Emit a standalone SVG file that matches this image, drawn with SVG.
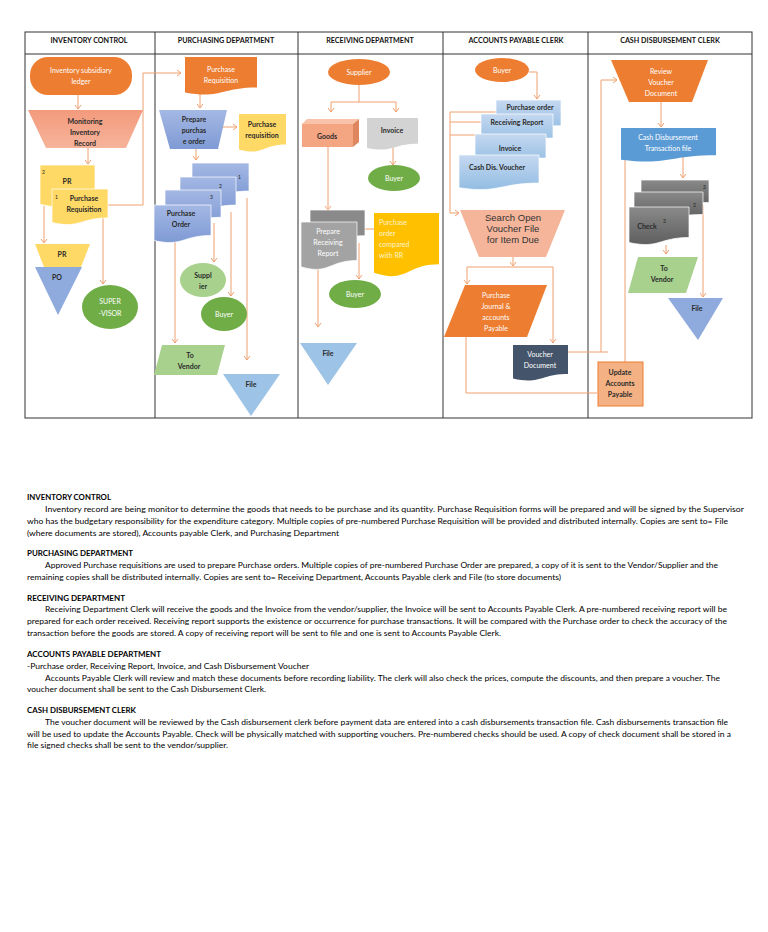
<svg xmlns="http://www.w3.org/2000/svg" width="768" height="932" viewBox="0 0 768 932">
<style>
.conn{stroke:#f0a070;stroke-width:1;fill:none}
.t{font-family:Lato,"Liberation Sans",sans-serif;font-size:7px;text-anchor:middle}
.ts{font-family:Lato,"Liberation Sans",sans-serif;font-size:7px;text-anchor:start}
.b{font-weight:bold}
.w{fill:#ffffff}
.d{fill:#2a2a2a}
.n{font-family:Lato,"Liberation Sans",sans-serif;font-size:5px;fill:#222}
.hd{font-family:Lato,"Liberation Sans",sans-serif;font-size:7.2px;font-weight:bold;text-anchor:middle;fill:#111}
.p{font-family:Lato,"Liberation Sans",sans-serif;font-size:7.4px;fill:#000}
.ph{font-family:Lato,"Liberation Sans",sans-serif;font-size:7.4px;fill:#000;font-weight:bold}
.sk{stroke:#ffffff;stroke-width:0.7}
.so{font-family:"Liberation Sans",Arial,sans-serif;font-size:9.5px;fill:#333;text-anchor:middle}
</style>
<defs>
<marker id="ah" markerUnits="userSpaceOnUse" markerWidth="8" markerHeight="8" refX="5" refY="4" orient="auto">
<path d="M1,1 L5,4 L1,7" fill="none" stroke="#f0a070" stroke-width="1"/>
</marker>
<linearGradient id="gBlue" x1="0" y1="0" x2="0" y2="1"><stop offset="0" stop-color="#c5d8f0"/><stop offset="1" stop-color="#93bde3"/></linearGradient>
<linearGradient id="gPur" x1="0" y1="0" x2="0" y2="1"><stop offset="0" stop-color="#a4b8e4"/><stop offset="1" stop-color="#7f9ad4"/></linearGradient>
<linearGradient id="gGray" x1="0" y1="0" x2="0" y2="1"><stop offset="0" stop-color="#8a8a8a"/><stop offset="1" stop-color="#5e5e5e"/></linearGradient>
<linearGradient id="gSal" x1="0" y1="0" x2="0" y2="1"><stop offset="0" stop-color="#f39a7c"/><stop offset="1" stop-color="#f6b49b"/></linearGradient>
</defs>
<rect width="768" height="932" fill="#ffffff"/>

<g id="table" stroke="#333" stroke-width="1" fill="none">
<rect x="25" y="32" width="727" height="386"/>
<line x1="25" y1="54" x2="752" y2="54"/>
<line x1="155" y1="32" x2="155" y2="418"/>
<line x1="298" y1="32" x2="298" y2="418"/>
<line x1="443" y1="32" x2="443" y2="418"/>
<line x1="588" y1="32" x2="588" y2="418"/>
</g>
<g id="headers">
<text class="hd" x="89" y="43">INVENTORY CONTROL</text>
<text class="hd" x="226" y="43">PURCHASING DEPARTMENT</text>
<text class="hd" x="370" y="43">RECEIVING DEPARTMENT</text>
<text class="hd" x="516" y="43">ACCOUNTS PAYABLE CLERK</text>
<text class="hd" x="670" y="43">CASH DISBURSEMENT CLERK</text>
</g>

<g id="connectors">
<path class="conn" d="M78,95 V109" marker-end="url(#ah)"/>
<path class="conn" d="M88,148 V164" marker-end="url(#ah)"/>
<path class="conn" d="M44,206 V243" marker-end="url(#ah)"/>
<path class="conn" d="M103,217 V284" marker-end="url(#ah)"/>
<path class="conn" d="M108,205 H143 V73 H181" marker-end="url(#ah)"/>
<path class="conn" d="M200,92 V108" marker-end="url(#ah)"/>
<path class="conn" d="M220,127 H237" marker-end="url(#ah)"/>
<path class="conn" d="M196,149 V160" marker-end="url(#ah)"/>
<path class="conn" d="M175,241 V343" marker-end="url(#ah)"/>
<path class="conn" d="M214,223 V262" marker-end="url(#ah)"/>
<path class="conn" d="M231,212 V296" marker-end="url(#ah)"/>
<path class="conn" d="M247,198 V360" marker-end="url(#ah)"/>
<path class="conn" d="M359,85 V102 M331,102 H396"/>
<path class="conn" d="M331,102 V112" marker-end="url(#ah)"/>
<path class="conn" d="M396,102 V112" marker-end="url(#ah)"/>
<path class="conn" d="M393,146 V165" marker-end="url(#ah)"/>
<path class="conn" d="M328,147 V210" marker-end="url(#ah)"/>
<path class="conn" d="M365,229 H374"/>
<path class="conn" d="M359,243 V279" marker-end="url(#ah)"/>
<path class="conn" d="M318,267 V327" marker-end="url(#ah)"/>
<path class="conn" d="M529,72 H537 V99" marker-end="url(#ah)"/>
<path class="conn" d="M496,112 H450 M481,122 H450 M475,135 H450"/>
<path class="conn" d="M450,112 V213 H459" marker-end="url(#ah)"/>
<path class="conn" d="M513,245 V266" marker-end="url(#ah)"/>
<path class="conn" d="M467,267 H553"/>
<path class="conn" d="M467,267 V284" marker-end="url(#ah)"/>
<path class="conn" d="M553,267 V343" marker-end="url(#ah)"/>
<path class="conn" d="M466,337 V393 H597"/>
<path class="conn" d="M568,352 H608"/>
<path class="conn" d="M601,352 V80 H617" marker-end="url(#ah)"/>
<path class="conn" d="M661,102 V127" marker-end="url(#ah)"/>
<path class="conn" d="M683,152 V178" marker-end="url(#ah)"/>
<path class="conn" d="M666,245 V254" marker-end="url(#ah)"/>
<path class="conn" d="M703,205 V297" marker-end="url(#ah)"/>
<path class="conn" d="M625,152 V362"/>
</g>

<g id="inv-ledger">
<rect x="30" y="57" width="102" height="38" rx="18" fill="#ed7d31"/>
<text class="t w" x="81" y="73">Inventory subsidiary</text>
<text class="t w" x="81" y="84">ledger</text>
</g>
<g id="inv-monitor">
<polygon points="28,110 143,110 126,148 46,148" fill="url(#gSal)"/>
<text class="t d b" x="85" y="124">Monitoring</text>
<text class="t d b" x="85" y="135">Inventory</text>
<text class="t d b" x="85" y="146">Record</text>
</g>
<g id="inv-pr2">
<path d="M40 165 H95 V198.7 C67.5 198.7 67.5 211.5 40 204.2 Z" fill="#ffd966" class="sk"/>
<text class="n" x="42" y="174">2</text>
<text class="t d b" x="67" y="184">PR</text>
</g>
<g id="inv-pr1">
<path d="M52 189 H108 V217.9 C80 217.9 80 228.9 52 222.6 Z" fill="#ffd966" class="sk"/>
<text class="n" x="55" y="199">1</text>
<text class="t d b" x="84" y="201">Purchase</text>
<text class="t d b" x="84" y="212">Requisition</text>
</g>
<g id="inv-pr-file">
<polygon points="35,244 90,244 81,267 44,267" fill="#ffd966"/>
<text class="t d b" x="62" y="257">PR</text>
</g>
<g id="inv-po-file">
<polygon points="35,267 82,267 58,315" fill="#8faadc"/>
<text class="t d b" x="57" y="280">PO</text>
</g>
<g id="inv-supervisor">
<ellipse cx="110" cy="307" rx="28" ry="22" fill="#70ad47"/>
<text class="t w" x="110" y="304">SUPER</text>
<text class="t w" x="110" y="316">-VISOR</text>
</g>

<g id="pur-req">
<path d="M185 57 H257 V87.5 C221 87.5 221 99.1 185 92.5 Z" fill="#ed7d31"/>
<text class="t w" x="221" y="72">Purchase</text>
<text class="t w" x="221" y="83">Requisition</text>
</g>
<g id="pur-prepare">
<polygon points="159,110 227,110 218,149 170,149" fill="url(#gPur)"/>
<text class="t d b" x="194" y="122">Prepare</text>
<text class="t d b" x="194" y="133">purchas</text>
<text class="t d b" x="194" y="144">e order</text>
</g>
<g id="pur-req-copy">
<path d="M239 114 H286 V144.5 C262.5 144.5 262.5 156.1 239 149.5 Z" fill="#ffd966"/>
<text class="t d b" x="262" y="127">Purchase</text>
<text class="t d b" x="262" y="138">requisition</text>
</g>
<g id="pur-po-1">
<path d="M192 163 H249 V191.1 C220.5 191.1 220.5 201.8 192 195.7 Z" fill="url(#gPur)" class="sk"/>
<text class="n" x="238" y="179">1</text>
</g>
<g id="pur-po-2">
<path d="M180 177 H236 V205.1 C208 205.1 208 215.8 180 209.7 Z" fill="url(#gPur)" class="sk"/>
<text class="n" x="219" y="188">2</text>
</g>
<g id="pur-po-3">
<path d="M165 190 H221 V217.3 C193 217.3 193 227.7 165 221.8 Z" fill="url(#gPur)" class="sk"/>
<text class="n" x="210" y="199">3</text>
</g>
<g id="pur-po">
<path d="M154 205 H211 V235.5 C182.5 235.5 182.5 247.1 154 240.5 Z" fill="url(#gPur)" class="sk"/>
<text class="t d b" x="181" y="216">Purchase</text>
<text class="t d b" x="181" y="227">Order</text>
</g>
<g id="pur-supplier">
<ellipse cx="203" cy="280" rx="23" ry="17" fill="#a9d18e"/>
<text class="t d b" x="203" y="278">Suppl</text>
<text class="t d b" x="203" y="289">ier</text>
</g>
<g id="pur-buyer">
<ellipse cx="224" cy="314" rx="23" ry="17" fill="#70ad47"/>
<text class="t w" x="224" y="317">Buyer</text>
</g>
<g id="pur-vendor">
<polygon points="162,345 225,345 217,375 154,375" fill="#a9d18e"/>
<text class="t d b" x="190" y="358">To</text>
<text class="t d b" x="189" y="369">Vendor</text>
</g>
<g id="pur-file">
<polygon points="223,374 280,374 251,416" fill="#9dc3e6"/>
<text class="t d b" x="251" y="387">File</text>
</g>

<g id="rec-supplier">
<ellipse cx="359" cy="72" rx="31" ry="13" fill="#ed7d31"/>
<text class="t w" x="359" y="75">Supplier</text>
</g>
<g id="rec-goods">
<rect x="302" y="124" width="51" height="23" fill="#f4a582"/>
<polygon points="302,124 307,119 359,119 353,124" fill="#f8c3a8"/>
<polygon points="353,124 359,119 359,142 353,147" fill="#e0865f"/>
<text class="t d b" x="327" y="139">Goods</text>
</g>
<g id="rec-invoice">
<path d="M367 118 H418 V143.7 C392.5 143.7 392.5 153.4 367 147.9 Z" fill="#d3d3d3"/>
<text class="t d b" x="392" y="133">Invoice</text>
</g>
<g id="rec-buyer1">
<ellipse cx="394" cy="178" rx="26" ry="13" fill="#70ad47"/>
<text class="t w" x="394" y="181">Buyer</text>
</g>
<g id="rec-rr-back">
<path d="M310 210 H365 V235.7 C337.5 235.7 337.5 245.4 310 239.9 Z" fill="#8a8a8a" class="sk"/>
</g>
<g id="rec-rr">
<path d="M301 222 H357 V260.5 C329 260.5 329 275.2 301 266.8 Z" fill="#a3a3a3" class="sk"/>
<text class="t w" x="328" y="234">Prepare</text>
<text class="t w" x="328" y="245">Receiving</text>
<text class="t w" x="328" y="256">Report</text>
</g>
<g id="rec-compare">
<path d="M374 213 H439 V264.3 C406.5 264.3 406.5 283.9 374 272.8 Z" fill="#ffc000"/>
<text class="ts" fill="#fff4d0" x="379" y="225">Purchase</text>
<text class="ts" fill="#fff4d0" x="379" y="236">order</text>
<text class="ts" fill="#fff4d0" x="379" y="247">compared</text>
<text class="ts" fill="#fff4d0" x="379" y="258">with RR</text>
</g>
<g id="rec-buyer2">
<ellipse cx="355" cy="294" rx="26" ry="14" fill="#70ad47"/>
<text class="t w" x="355" y="297">Buyer</text>
</g>
<g id="rec-file">
<polygon points="300,343 357,343 328,385" fill="#9dc3e6"/>
<text class="t d b" x="328" y="356">File</text>
</g>

<g id="ap-buyer">
<ellipse cx="502" cy="70" rx="27" ry="12" fill="#ed7d31"/>
<text class="t w" x="502" y="73">Buyer</text>
</g>
<g id="ap-po">
<path d="M496 100 H561 V125.7 C528.5 125.7 528.5 135.4 496 129.9 Z" fill="url(#gBlue)" class="sk"/>
<text class="t d b" x="530" y="110">Purchase order</text>
</g>
<g id="ap-rr">
<path d="M481 114 H553 V138.1 C517 138.1 517 147.2 481 142 Z" fill="url(#gBlue)" class="sk"/>
<text class="t d b" x="517" y="125">Receiving Report</text>
</g>
<g id="ap-invoice">
<path d="M475 134 H546 V158.1 C510.5 158.1 510.5 167.2 475 162 Z" fill="url(#gBlue)" class="sk"/>
<text class="t d b" x="510" y="151">Invoice</text>
</g>
<g id="ap-voucher">
<path d="M459 155 H539 V183.1 C499 183.1 499 193.8 459 187.7 Z" fill="url(#gBlue)" class="sk"/>
<text class="t d b" x="497" y="170">Cash Dis. Voucher</text>
</g>
<g id="ap-search">
<polygon points="460,210 565,210 546,257 479,257" fill="#f5b59b"/>
<text class="so" x="513" y="221">Search Open</text>
<text class="so" x="513" y="232">Voucher File</text>
<text class="so" x="513" y="243">for Item Due</text>
</g>
<g id="ap-journal">
<polygon points="465,285 547,285 527,337 444,337" fill="#ed7d31"/>
<text class="t w" x="496" y="298">Purchase</text>
<text class="t w" x="496" y="309">Journal &amp;</text>
<text class="t w" x="496" y="320">accounts</text>
<text class="t w" x="496" y="331">Payable</text>
</g>
<g id="ap-voucher-doc">
<path d="M513 345 H568 V373.9 C540.5 373.9 540.5 384.9 513 378.6 Z" fill="#44546a"/>
<text class="t w" x="540" y="357">Voucher</text>
<text class="t w" x="540" y="368">Document</text>
</g>

<g id="cd-review">
<polygon points="611,60 708,60 692,102 629,102" fill="#ed7d31"/>
<text class="t w" x="661" y="74">Review</text>
<text class="t w" x="661" y="85">Voucher</text>
<text class="t w" x="661" y="96">Document</text>
</g>
<g id="cd-file-trans">
<path d="M621 128 H716 V155.3 C668.5 155.3 668.5 165.7 621 159.8 Z" fill="#5b9bd5"/>
<text class="t w" x="668" y="140">Cash Disbursement</text>
<text class="t w" x="668" y="151">Transaction file</text>
</g>
<g id="cd-check-3">
<path d="M641 180 H709 V202.5 C675 202.5 675 211 641 206.2 Z" fill="url(#gGray)" class="sk"/>
<text class="n" x="703" y="189">3</text>
</g>
<g id="cd-check-2">
<path d="M634 192 H703 V214.5 C668.5 214.5 668.5 223 634 218.2 Z" fill="url(#gGray)" class="sk"/>
<text class="n" x="693" y="207">2</text>
</g>
<g id="cd-check">
<path d="M629 207 H689 V237.5 C659 237.5 659 249.1 629 242.5 Z" fill="url(#gGray)" class="sk"/>
<text class="t d b" x="647" y="229">Check</text>
<text class="n" x="663" y="223">3</text>
</g>
<g id="cd-vendor">
<polygon points="638,257 698,257 686,293 628,293" fill="#a9d18e"/>
<text class="t d b" x="664" y="271">To</text>
<text class="t d b" x="662" y="282">Vendor</text>
</g>
<g id="cd-file">
<polygon points="668,298 723,298 698,340" fill="#8faadc"/>
<text class="t d b" x="697" y="311">File</text>
</g>
<g id="cd-update">
<rect x="598" y="362" width="45" height="44" fill="#f4b183" stroke="#ed7d31" stroke-width="1"/>
<text class="t d b" x="620" y="375">Update</text>
<text class="t d b" x="620" y="386">Accounts</text>
<text class="t d b" x="620" y="397">Payable</text>
</g>

<g id="notes">
<text class="ph" x="27" y="500" textLength="84" lengthAdjust="spacingAndGlyphs">INVENTORY CONTROL</text>
<text class="p" x="45" y="512" textLength="699" lengthAdjust="spacingAndGlyphs">Inventory record are being monitor to determine the goods that needs to be purchase and its quantity. Purchase Requisition forms will be prepared and will be signed by the Supervisor</text>
<text class="p" x="27" y="524" textLength="701" lengthAdjust="spacingAndGlyphs">who has the budgetary responsibility for the expenditure category. Multiple copies of pre-numbered Purchase Requisition will be provided and distributed internally. Copies are sent to= File</text>
<text class="p" x="27" y="536" textLength="312" lengthAdjust="spacingAndGlyphs">(where documents are stored), Accounts payable Clerk, and Purchasing Department</text>

<text class="ph" x="27" y="556" textLength="106" lengthAdjust="spacingAndGlyphs">PURCHASING DEPARTMENT</text>
<text class="p" x="45" y="568" textLength="673" lengthAdjust="spacingAndGlyphs">Approved Purchase requisitions are used to prepare Purchase orders. Multiple copies of pre-numbered Purchase Order are prepared, a copy of it is sent to the Vendor/Supplier and the</text>
<text class="p" x="27" y="580" textLength="534" lengthAdjust="spacingAndGlyphs">remaining copies shall be distributed internally. Copies are sent to= Receiving Department, Accounts Payable clerk and File (to store documents)</text>

<text class="ph" x="27" y="601" textLength="98" lengthAdjust="spacingAndGlyphs">RECEIVING DEPARTMENT</text>
<text class="p" x="45" y="612" textLength="682" lengthAdjust="spacingAndGlyphs">Receiving Department Clerk will receive the goods and the Invoice from the vendor/supplier, the Invoice will be sent to Accounts Payable Clerk. A pre-numbered receiving report will be</text>
<text class="p" x="27" y="624" textLength="700" lengthAdjust="spacingAndGlyphs">prepared for each order received. Receiving report supports the existence or occurrence for purchase transactions. It will be compared with the Purchase order to check the accuracy of the</text>
<text class="p" x="27" y="636" textLength="474" lengthAdjust="spacingAndGlyphs">transaction before the goods are stored. A copy of receiving report will be sent to file and one is sent to Accounts Payable Clerk.</text>

<text class="ph" x="27" y="657" textLength="134" lengthAdjust="spacingAndGlyphs">ACCOUNTS PAYABLE DEPARTMENT</text>
<text class="p" x="27" y="669" textLength="282" lengthAdjust="spacingAndGlyphs">-Purchase order, Receiving Report, Invoice, and Cash Disbursement Voucher</text>
<text class="p" x="45" y="681" textLength="675" lengthAdjust="spacingAndGlyphs">Accounts Payable Clerk will review and match these documents before recording liability. The clerk will also check the prices, compute the discounts, and then prepare a voucher. The</text>
<text class="p" x="27" y="692" textLength="239" lengthAdjust="spacingAndGlyphs">voucher document shall be sent to the Cash Disbursement Clerk.</text>

<text class="ph" x="27" y="713" textLength="109" lengthAdjust="spacingAndGlyphs">CASH DISBURSEMENT CLERK</text>
<text class="p" x="45" y="725" textLength="683" lengthAdjust="spacingAndGlyphs">The voucher document will be reviewed by the Cash disbursement clerk before payment data are entered into a cash disbursements transaction file. Cash disbursements transaction file</text>
<text class="p" x="27" y="737" textLength="704" lengthAdjust="spacingAndGlyphs">will be used to update the Accounts Payable. Check will be physically matched with supporting vouchers. Pre-numbered checks should be used. A copy of check document shall be stored in a</text>
<text class="p" x="27" y="748" textLength="201" lengthAdjust="spacingAndGlyphs">file signed checks shall be sent to the vendor/supplier.</text>
</g>
</svg>
